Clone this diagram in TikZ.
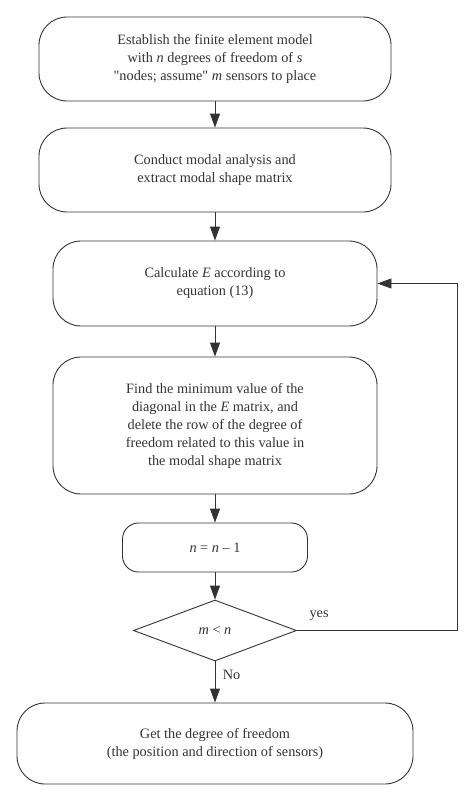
\documentclass[tikz,border=0pt]{standalone}
\usepackage{fontspec}
\setmainfont{Liberation Serif}
\usetikzlibrary{shapes.geometric,arrows.meta}
\definecolor{ink}{HTML}{333333}
\begin{document}
\begin{tikzpicture}[x=1pt,y=-1pt,
  box/.style={draw=ink,line width=0.9pt,rounded corners=28pt,align=center,text=ink,
    font=\fontsize{14.3}{18}\selectfont,inner sep=0pt},
  dia/.style={draw=ink,line width=0.9pt,diamond,aspect=2.67,inner sep=0pt,text=ink,
    font=\fontsize{14.3}{18}\selectfont,minimum width=163pt,minimum height=61pt},
  arr/.style={draw=ink,line width=0.9pt,-{Triangle[length=14pt,width=10pt]}},
  lbl/.style={text=ink,font=\fontsize{14.3}{18}\selectfont}]
\useasboundingbox (0,0) rectangle (474,801);
\node[box,minimum width=352pt,minimum height=84pt] (b1) at (215,59)
  {Establish the finite element model\\with \textit{n} degrees of freedom of \textit{s}\\\textquotedbl nodes; assume\textquotedbl\ \textit{m} sensors to place};
\node[box,minimum width=352pt,minimum height=84pt] (b2) at (215,170)
  {Conduct modal analysis and\\extract modal shape matrix};
\node[box,minimum width=324pt,minimum height=85pt] (b3) at (215,283.5)
  {Calculate \textit{E} according to\\equation (13)};
\node[box,minimum width=324pt,minimum height=137pt] (b4) at (215,425.5)
  {Find the minimum value of the\\diagonal in the \textit{E} matrix, and\\delete the row of the degree of\\freedom related to this value in\\the modal shape matrix};
\node[box,rounded corners=16pt,minimum width=185pt,minimum height=49pt] (b5) at (215,547.5)
  {\textit{n} = \textit{n} – 1};
\node[dia] (d) at (215,630.5) {\textit{m} < \textit{n}};
\node[box,minimum width=396pt,minimum height=81pt] (b6) at (215,743.5)
  {Get the degree of freedom\\(the position and direction of sensors)};
\coordinate (rr) at (457,630.5);
\draw[arr] (b1) -- (b2);
\draw[arr] (b2) -- (b3);
\draw[arr] (b3) -- (b4);
\draw[arr] (b4) -- (b5);
\draw[arr] (b5) -- (d);
\draw[arr] (d) -- node[lbl,right=4pt,pos=0.33] (no) {No} (b6);
\draw[arr] (d.east) -- (rr) |- (b3.east);
\node[lbl,anchor=west] (yes) at (306,616) {yes};
\end{tikzpicture}
\end{document}
